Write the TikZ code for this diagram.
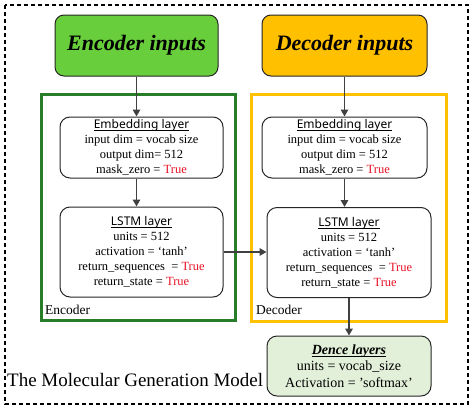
\documentclass[tikz,border=0pt]{standalone}
\usepackage{fontspec}
\setmainfont{Liberation Serif}
\newfontfamily\hdrfont{Noto Sans}
\usetikzlibrary{arrows.meta}
\definecolor{ingreen}{RGB}{104,206,60}
\definecolor{inorange}{RGB}{255,192,0}
\definecolor{framegreen}{RGB}{40,125,40}
\definecolor{dencefill}{RGB}{226,240,217}
\definecolor{truered}{RGB}{232,20,40}
\definecolor{arrowgray}{RGB}{64,64,64}
\newcommand{\tru}{\textcolor{truered}{True}}
\newcommand{\myul}[1]{\setbox0\hbox{#1}\rlap{\rule[-2.2pt]{\wd0}{0.7pt}}\box0}
\newcommand{\hdr}[1]{{\hdrfont\fontsize{12}{15}\selectfont\myul{#1}}}
\tikzset{
  inbox/.style={draw=black!85, line width=1pt, rounded corners=9pt, minimum height=61pt,
    font=\fontsize{22}{24}\selectfont\bfseries\itshape, inner sep=0pt},
  layerbox/.style={draw=black!85, line width=1pt, rounded corners=10pt, fill=white,
    align=center, inner sep=0pt, font=\fontsize{12.5}{15}\selectfont},
  frame/.style={line width=3pt},
  conn/.style={draw=arrowgray, line width=1.6pt, -{Triangle[length=7pt,width=7.5pt]}},
  lbl/.style={anchor=west, inner sep=0pt, font=\fontsize{13.5}{15}\selectfont}
}
\begin{document}
\begin{tikzpicture}[x=1pt,y=-1pt]
\useasboundingbox (0,0) rectangle (474,413);
% outer dashed border
\draw[line width=1.4pt, dash pattern=on 4pt off 3pt] (5,5) rectangle (468,404);
% frames
\draw[frame, framegreen] (41,94) rectangle (235,320);
\draw[frame, inorange] (251,94) rectangle (446,321);
% input boxes
\node[inbox, fill=ingreen, minimum width=163pt] (encin) at (136.5,45.5) {Encoder inputs};
\node[inbox, fill=inorange, minimum width=165pt] (decin) at (344.5,45.5) {Decoder inputs};
% embedding
\node[layerbox, minimum width=163pt, minimum height=61pt] (encemb) at (141.5,147.5)
  {\hdr{Embedding layer}\\input dim = vocab size\\output dim= 512\\mask\_zero = \tru};
\node[layerbox, minimum width=165pt, minimum height=61pt] (decemb) at (344.5,147.5)
  {\hdr{Embedding layer}\\input dim = vocab size\\output dim = 512\\mask\_zero = \tru};
% LSTM
\node[layerbox, minimum width=163pt, minimum height=90pt] (enclstm) at (141.5,252)
  {\hdr{LSTM layer}\\units = 512\\activation = `tanh'\\return\_sequences \ = \tru\\return\_state = \tru};
\node[layerbox, minimum width=164pt, minimum height=90pt] (declstm) at (349,252.5)
  {\hdr{LSTM layer}\\units = 512\\activation = `tanh'\\return\_sequences \ = \tru\\return\_state = \tru};
% Dence
\node[layerbox, fill=dencefill, minimum width=164pt, minimum height=60pt,
  font=\fontsize{14}{16.5}\selectfont] (dence) at (349,366)
  {\myul{\textbf{\textit{Dence layers}}}\\units = vocab\_size\\Activation = 'softmax'};
% labels
\node[lbl] (enclbl) at (45,310) {Encoder};
\node[lbl] (declbl) at (256,310) {Decoder};
\node[anchor=west, inner sep=0pt, font=\fontsize{19}{22}\selectfont] (title) at (7,380) {The Molecular Generation Model};
% connectors
\draw[conn] (encin.south) -- (encin.south |- encemb.north);
\draw[conn] (encin.south |- encemb.south) -- (encin.south |- enclstm.north);
\draw[conn] (decin.south) -- (decin.south |- decemb.north);
\draw[conn] (decemb.south) -- (decemb.south |- declstm.north);
\draw[conn] (declstm.south) -- (dence.north);
\draw[conn] (enclstm.east) -- (enclstm.east -| declstm.west);
\end{tikzpicture}
\end{document}
